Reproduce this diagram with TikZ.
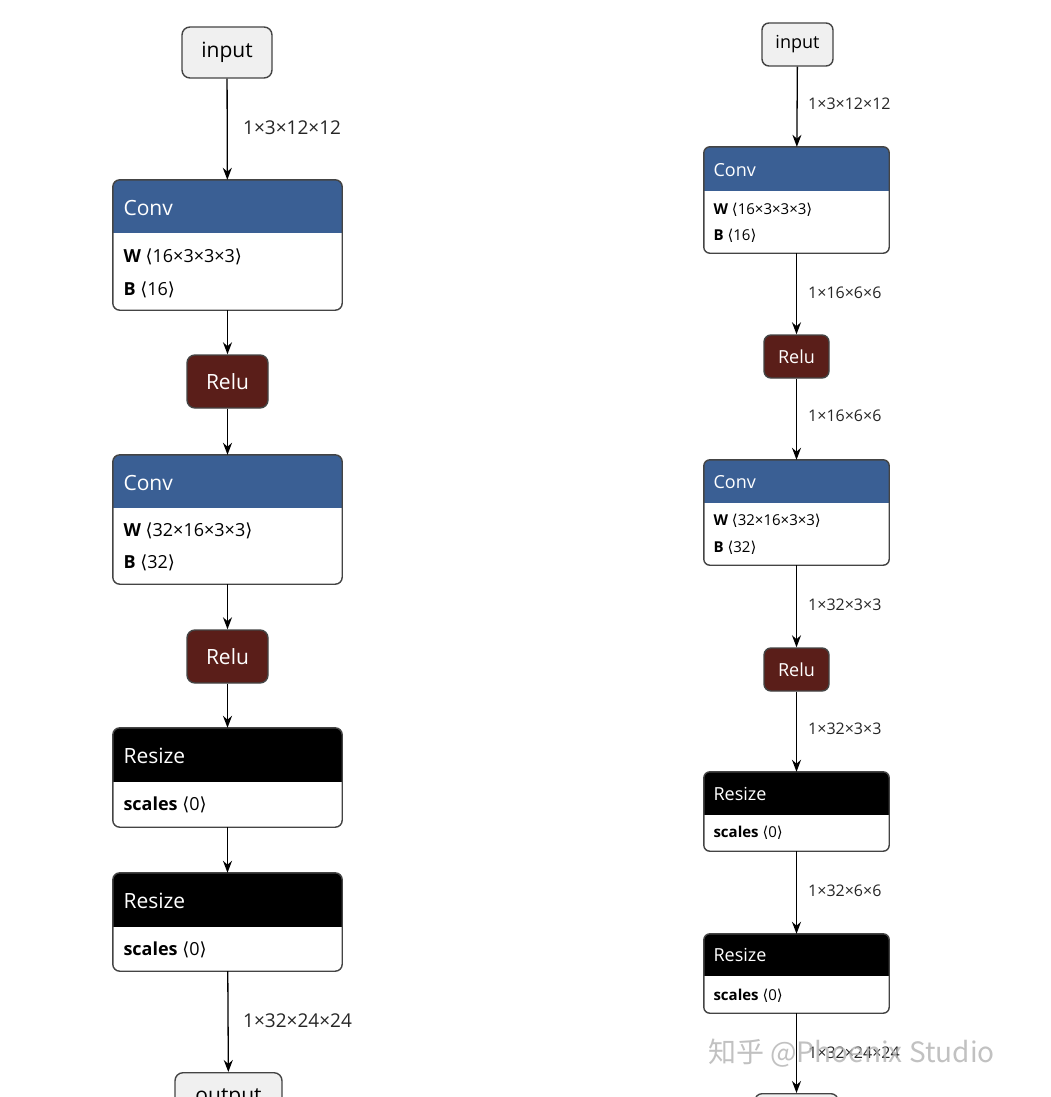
\documentclass[tikz,border=0pt]{standalone}
\usepackage{fontspec}
\setmainfont{Open Sans}
\newfontfamily\djv{DejaVu Sans}
\newcommand\lang{{\djv ⟨}}
\newcommand\rang{{\djv ⟩}}
\usetikzlibrary{calc,arrows.meta}
\definecolor{hblue}{HTML}{3A5F94}
\definecolor{hred}{HTML}{5A1E19}
\definecolor{lgray}{HTML}{F0F0F0}
\definecolor{bord}{HTML}{444444}
\newcommand\mkop[8]{% name, cx, cy, w, h, headerh, color, round
  \node[minimum width=#4pt, minimum height=#5pt, inner sep=0pt] (#1) at (#2,#3) {};
  \fill[#7, rounded corners=#8pt] (#1.north west) rectangle ($(#1.north east)+(0,#6)$);
  \fill[#7] ($(#1.north west)+(0,#6-8)$) rectangle ($(#1.north east)+(0,#6)$);
  \draw[bord, line width=1.4pt, rounded corners=#8pt] (#1.north west) rectangle (#1.south east);
}
\begin{document}
\begin{tikzpicture}[x=1pt,y=-1pt,
  arr/.style={-{Stealth[length=12pt,width=9pt]}, line width=1.3pt, black},
  lab/.style={anchor=west, text=black!85, inner sep=0pt},
  small/.style={rounded corners=8pt, line width=1.4pt, draw=bord, inner sep=0pt},
]
\useasboundingbox (0,0) rectangle (1050,1097);
% ---------- left ----------
\node[small, fill=lgray, minimum width=90pt, minimum height=51pt, font=\fontsize{21}{24}\selectfont] (Lin) at (227,52.5) {input};
\mkop{Lc1}{227.5}{245}{229}{130}{53}{hblue}{7}
\node[anchor=west,text=white,font=\fontsize{21}{24}\selectfont] (Lc1t) at (120,208) {Conv};
\node[anchor=west,font=\fontsize{18}{22}\selectfont] (Lc1w) at (120,257) {\textbf{W} \lang16×3×3×3\rang};
\node[anchor=west,font=\fontsize{18}{22}\selectfont] (Lc1b) at (120,290) {\textbf{B} \lang16\rang};
\node[small, fill=hred, text=white, minimum width=81pt, minimum height=53pt, font=\fontsize{21}{24}\selectfont] (Lr1) at (227.5,381.5) {Relu};
\mkop{Lc2}{227.5}{519.5}{229}{129}{53}{hblue}{7}
\node[anchor=west,text=white,font=\fontsize{21}{24}\selectfont] (Lc2t) at (120,483) {Conv};
\node[anchor=west,font=\fontsize{18}{22}\selectfont] (Lc2w) at (120,531) {\textbf{W} \lang32×16×3×3\rang};
\node[anchor=west,font=\fontsize{18}{22}\selectfont] (Lc2b) at (120,563) {\textbf{B} \lang32\rang};
\node[small, fill=hred, text=white, minimum width=81pt, minimum height=53pt, font=\fontsize{21}{24}\selectfont] (Lr2) at (227.5,656.5) {Relu};
\mkop{Ls1}{227.5}{777.5}{229}{99}{54}{black}{7}
\node[anchor=west,text=white,font=\fontsize{21}{24}\selectfont] (Ls1t) at (120,756) {Resize};
\node[anchor=west,font=\fontsize{18}{22}\selectfont] (Ls1s) at (120,805) {\textbf{scales} \lang0\rang};
\mkop{Ls2}{227.5}{922}{229}{98}{54}{black}{7}
\node[anchor=west,text=white,font=\fontsize{21}{24}\selectfont] (Ls2t) at (120,901) {Resize};
\node[anchor=west,font=\fontsize{18}{22}\selectfont] (Ls2s) at (120,950) {\textbf{scales} \lang0\rang};
\node[small, fill=lgray, minimum width=107pt, minimum height=50pt, font=\fontsize{21}{24}\selectfont, anchor=north] (Lout) at (228.5,1072) {output};
\draw[arr] (Lin) -- (Lc1);
\draw[arr] (Lc1) -- (Lr1);
\draw[arr] (Lr1) -- (Lc2);
\draw[arr] (Lc2) -- (Lr2);
\draw[arr] (Lr2) -- (Ls1);
\draw[arr] (Ls1) -- (Ls2);
\draw[arr] (Ls2) -- (Lout);
\node[lab,font=\fontsize{19}{22}\selectfont] (Ll1) at (243,128) {1×3×12×12};
\node[lab,font=\fontsize{19}{22}\selectfont] (Ll2) at (243,1021) {1×32×24×24};
% ---------- right ----------
\node[small, fill=lgray, minimum width=71pt, minimum height=43pt, rounded corners=7pt, font=\fontsize{18}{21}\selectfont] (Rin) at (797.5,44.5) {input};
\mkop{Rc1}{796.5}{200}{185}{106}{44}{hblue}{6}
\node[anchor=west,text=white,font=\fontsize{18}{21}\selectfont] (Rc1t) at (710,170) {Conv};
\node[anchor=west,font=\fontsize{15}{18}\selectfont] (Rc1w) at (710,210) {\textbf{W} \lang16×3×3×3\rang};
\node[anchor=west,font=\fontsize{15}{18}\selectfont] (Rc1b) at (710,236) {\textbf{B} \lang16\rang};
\node[small, fill=hred, text=white, rounded corners=7pt, minimum width=65pt, minimum height=43pt, font=\fontsize{18}{21}\selectfont] (Rr1) at (796.5,356.5) {Relu};
\mkop{Rc2}{796.5}{512.5}{185}{105}{43}{hblue}{6}
\node[anchor=west,text=white,font=\fontsize{18}{21}\selectfont] (Rc2t) at (710,482) {Conv};
\node[anchor=west,font=\fontsize{15}{18}\selectfont] (Rc2w) at (710,521) {\textbf{W} \lang32×16×3×3\rang};
\node[anchor=west,font=\fontsize{15}{18}\selectfont] (Rc2b) at (710,548) {\textbf{B} \lang32\rang};
\node[small, fill=hred, text=white, rounded corners=7pt, minimum width=65pt, minimum height=43pt, font=\fontsize{18}{21}\selectfont] (Rr2) at (796.5,669.5) {Relu};
\mkop{Rs1}{796.5}{811.5}{185}{79}{43}{black}{6}
\node[anchor=west,text=white,font=\fontsize{18}{21}\selectfont] (Rs1t) at (710,794) {Resize};
\node[anchor=west,font=\fontsize{15}{18}\selectfont] (Rs1s) at (710,833) {\textbf{scales} \lang0\rang};
\mkop{Rs2}{796.5}{973.5}{185}{79}{42}{black}{6}
\node[anchor=west,text=white,font=\fontsize{18}{21}\selectfont] (Rs2t) at (710,955) {Resize};
\node[anchor=west,font=\fontsize{15}{18}\selectfont] (Rs2s) at (710,996) {\textbf{scales} \lang0\rang};
\node[small, fill=lgray, rounded corners=7pt, minimum width=83pt, minimum height=40pt, anchor=north] (Rout) at (796.5,1093) {};
\draw[arr] (Rin) -- (Rc1);
\draw[arr] (Rc1) -- (Rr1);
\draw[arr] (Rr1) -- (Rc2);
\draw[arr] (Rc2) -- (Rr2);
\draw[arr] (Rr2) -- (Rs1);
\draw[arr] (Rs1) -- (Rs2);
\draw[arr] (Rs2) -- (Rout);
\node[lab,font=\fontsize{16}{19}\selectfont] (Rl1) at (808,104) {1×3×12×12};
\node[lab,font=\fontsize{16}{19}\selectfont] (Rl2) at (808,293) {1×16×6×6};
\node[lab,font=\fontsize{16}{19}\selectfont] (Rl3) at (808,416) {1×16×6×6};
\node[lab,font=\fontsize{16}{19}\selectfont] (Rl4) at (808,605) {1×32×3×3};
\node[lab,font=\fontsize{16}{19}\selectfont] (Rl5) at (808,729) {1×32×3×3};
\node[lab,font=\fontsize{16}{19}\selectfont] (Rl6) at (808,891) {1×32×6×6};
\node[lab,font=\fontsize{16}{19}\selectfont] (Rl7) at (808,1053) {1×32×24×24};
% watermark
\newfontfamily\cjkwm{Noto Sans CJK SC}
\node[anchor=west, text=black!30, opacity=0.8, inner sep=0pt, font=\cjkwm\fontsize{28}{32}\selectfont] (wm) at (708,1053) {知乎 @Phoenix Studio};
\end{tikzpicture}
\end{document}
